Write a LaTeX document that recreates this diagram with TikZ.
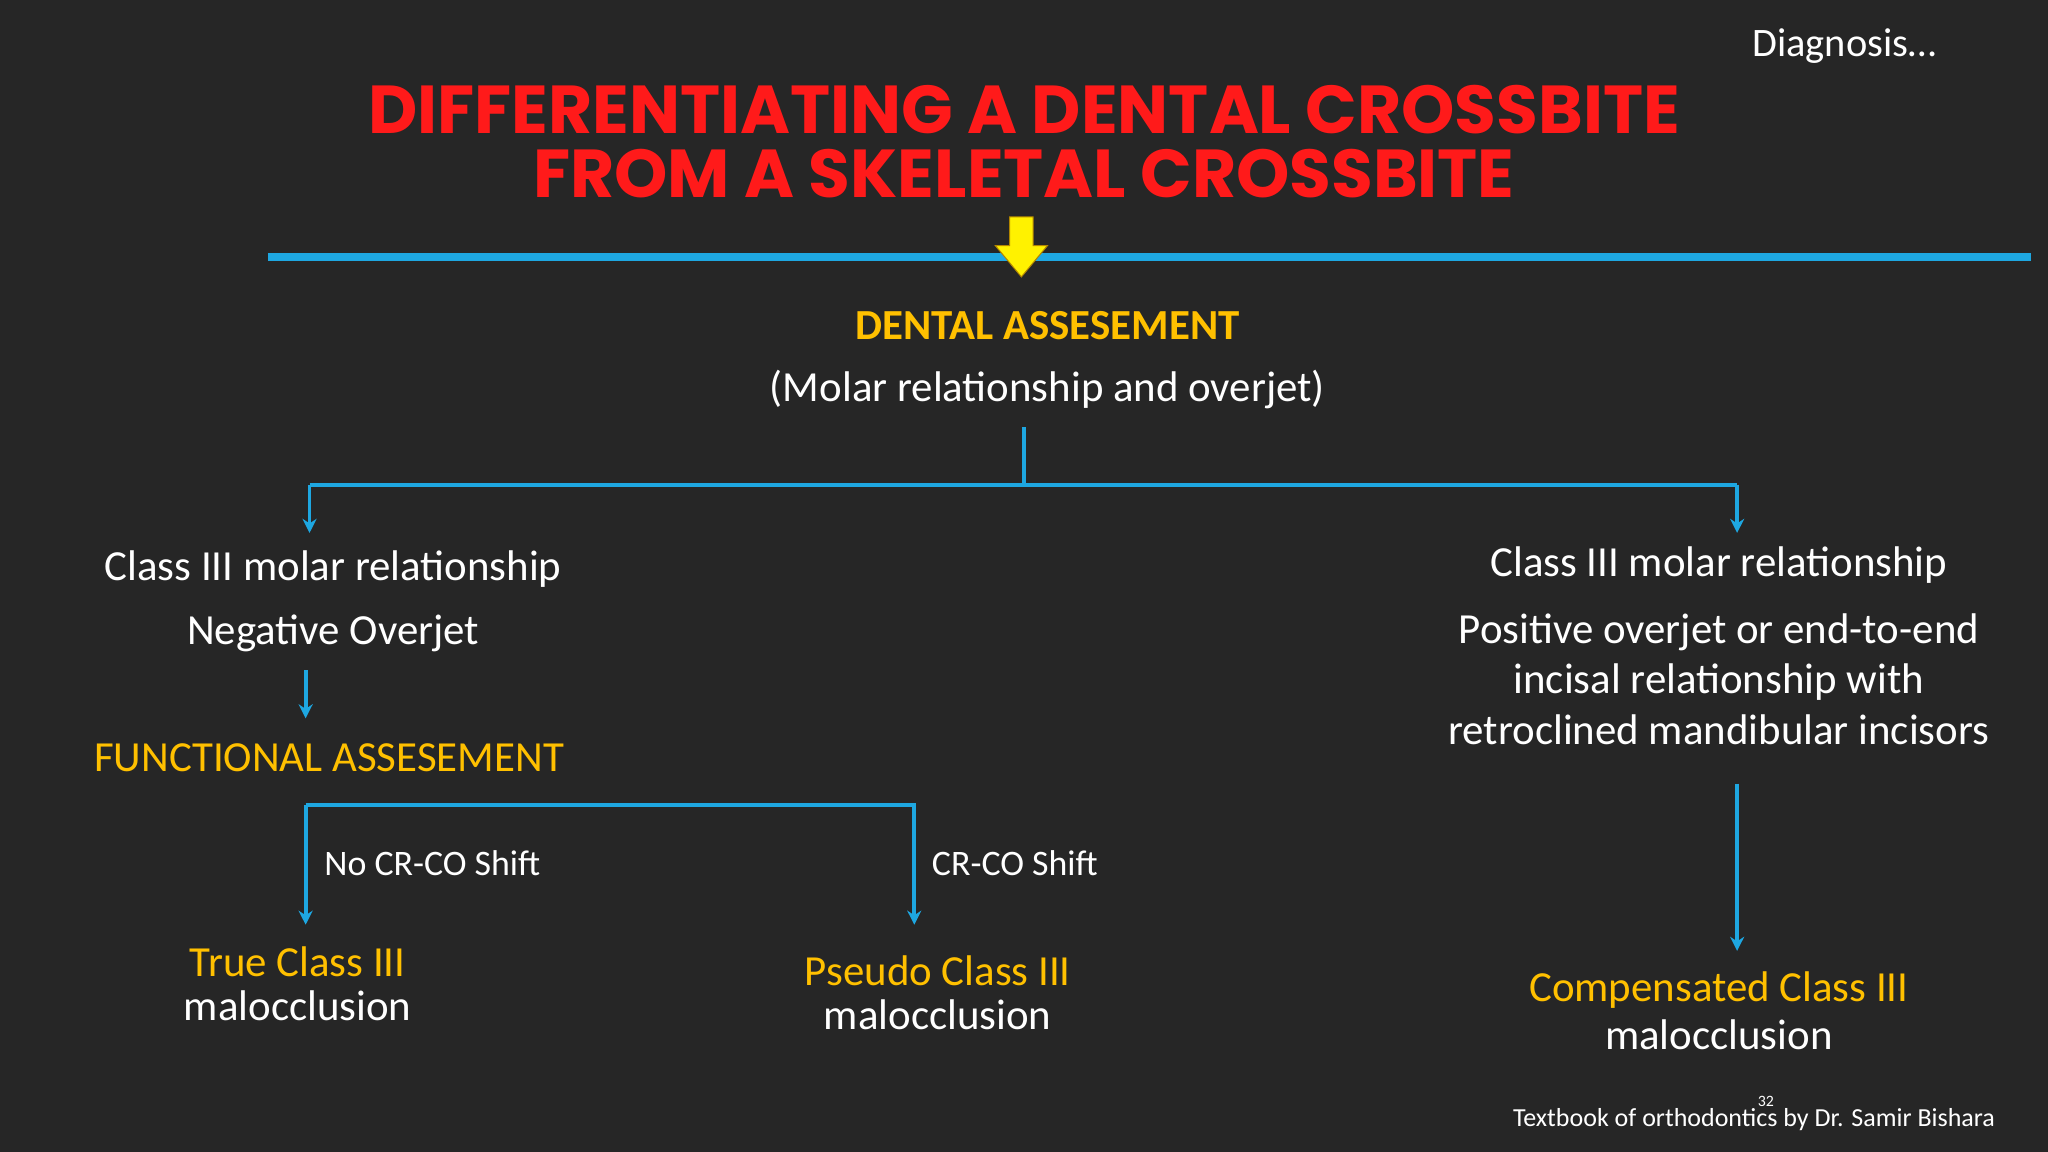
\documentclass[tikz,border=0pt]{standalone}
\usepackage{fontspec}
\setmainfont{Carlito}
\newfontfamily\titlefont{Poppins}
\usetikzlibrary{arrows.meta}
\definecolor{bg}{HTML}{262626}
\definecolor{ttl}{HTML}{FF1A1A}
\definecolor{ylw}{HTML}{FFC000}
\definecolor{blu}{HTML}{1EA7E1}
\tikzset{
  body/.style={text=white,font=\fontsize{12.2}{13}\selectfont,inner sep=0pt},
  ybody/.style={text=ylw,font=\fontsize{12.2}{13}\selectfont,inner sep=0pt},
  small/.style={text=white,font=\fontsize{10.2}{11}\selectfont,inner sep=0pt},
  conn/.style={draw=blu,line width=1.1pt},
  arr/.style={conn,-{Stealth[length=4pt,width=4pt]}}
}
\begin{document}
\begin{tikzpicture}[x=0.013061cm,y=-0.013061cm]
\fill[bg] (0,0) rectangle (1568,882);
\useasboundingbox (0,0) rectangle (1568,882);
\node[small,font=\fontsize{11.5}{12}\selectfont] (diag) at (1412,35) {Diagnosis…};
\node[text=ttl,font=\titlefont\bfseries\fontsize{19.3}{20}\selectfont,inner sep=0pt] (t1) at (784,84) {DIFFERENTIATING A DENTAL CROSSBITE};
\node[text=ttl,font=\titlefont\bfseries\fontsize{19.3}{20}\selectfont,inner sep=0pt] (t2) at (784,133) {FROM A SKELETAL CROSSBITE};
\coordinate (hl) at (205,197); \coordinate (hr) at (1555,197);
\draw[blu,line width=2.2pt] (hl) -- (hr);
\fill[yellow,draw=ylw!70!black,line width=0.3pt] (773,166) -- (791,166) -- (791,188) -- (802,188) -- (782,212) -- (762,188) -- (773,188) -- cycle;
\node[ybody,font=\bfseries\fontsize{12.2}{13}\selectfont] (da) at (802,249) {DENTAL ASSESEMENT};
\node[body] (mr) at (802,298) {(Molar relationship and overjet)};
\coordinate (v0) at (784,327); \coordinate (v1) at (784,371);
\coordinate (hL) at (237,371); \coordinate (hR) at (1330,371);
\coordinate (aL) at (237,408); \coordinate (aR) at (1330,408);
\draw[conn] (v0) -- (v1);
\draw[conn] (hL) -- (hR);
\draw[arr] (hL) -- (aL);
\draw[arr] (hR) -- (aR);
\node[body] (l1) at (255,436) {Class III molar relationship};
\node[body] (l2) at (255,485) {Negative Overjet};
\coordinate (b0) at (234,513); \coordinate (b1) at (234,550);
\draw[arr] (b0) -- (b1);
\node[ybody] (fa) at (252,580) {FUNCTIONAL ASSESEMENT};
\coordinate (c0) at (234,616); \coordinate (c1) at (700,616);
\coordinate (c2) at (234,708); \coordinate (c3) at (700,708);
\draw[arr] (c0) -- (c2);
\draw[arr] (c0) -- (c1) -- (c3);
\node[small] (nc) at (331,661) {No CR-CO Shift};
\node[small] (cc) at (777,661) {CR-CO Shift};
\node[ybody] (tc) at (228,736) {True Class III};
\node[body] (tm) at (228,770) {malocclusion};
\node[ybody] (pc) at (718,743) {Pseudo Class III};
\node[body] (pm) at (718,777) {malocclusion};
\node[body] (r1) at (1316,433) {Class III molar relationship};
\node[body,align=center,font=\fontsize{12.2}{14.4}\selectfont] (r2) at (1316,520) {Positive overjet or end-to-end\\incisal relationship with\\retroclined mandibular incisors};
\coordinate (d0) at (1330,600); \coordinate (d1) at (1330,728);
\draw[arr] (d0) -- (d1);
\node[ybody] (cp) at (1316,758) {Compensated Class III};
\node[body] (cm) at (1316,792) {malocclusion};
\node[text=white,font=\fontsize{4.5}{5}\selectfont,inner sep=0pt] (pg) at (1352,843) {32};
\node[text=white,font=\fontsize{7.4}{8}\selectfont,inner sep=0pt,anchor=east] (ft) at (1528,857) {Textbook of orthodontics by Dr. Samir Bishara};
\end{tikzpicture}
\end{document}
